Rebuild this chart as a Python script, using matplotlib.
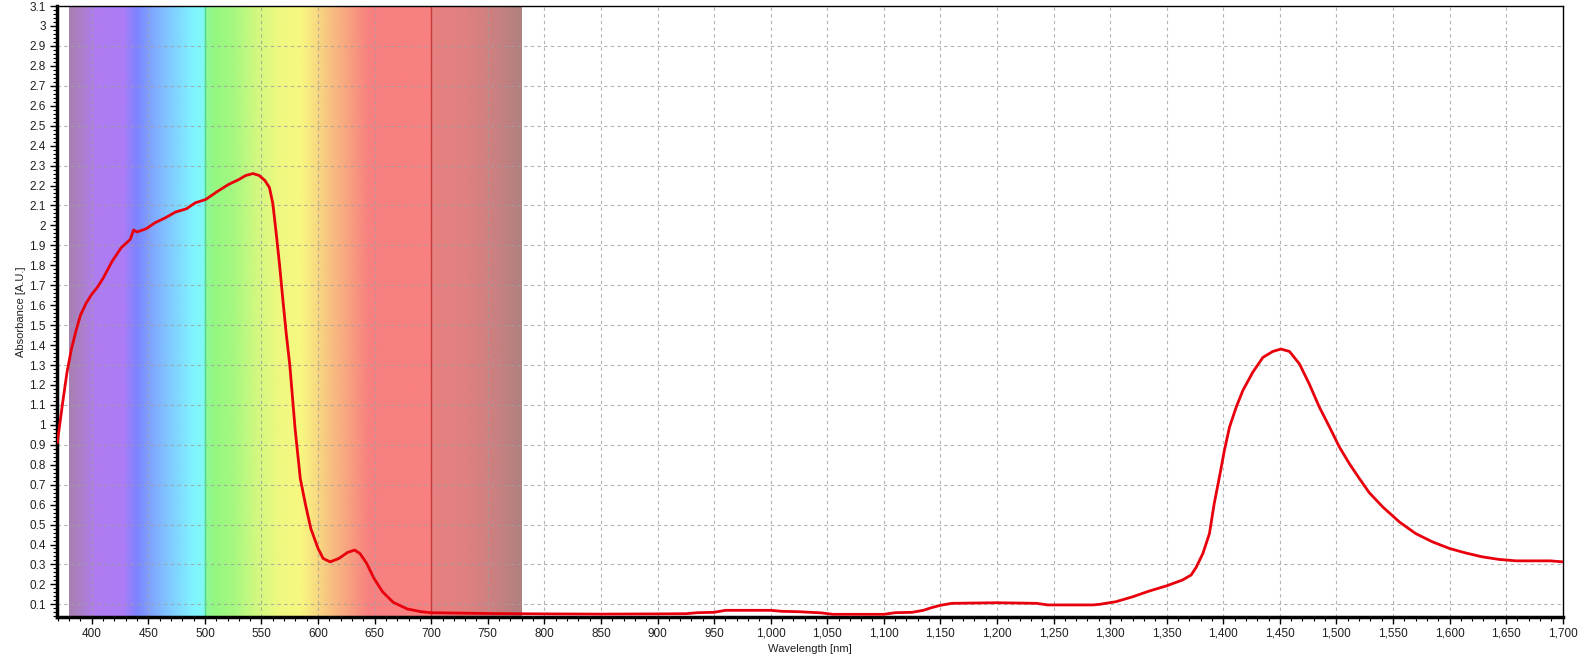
import numpy as np
import matplotlib
matplotlib.use("Agg")
import matplotlib.pyplot as plt
from matplotlib.colors import LinearSegmentedColormap, to_rgb
from matplotlib.ticker import MultipleLocator, FuncFormatter

plt.rcParams['font.family'] = ['Liberation Sans', 'DejaVu Sans']

# ---- data ----
wavelength = [369.6, 374, 378, 382, 386, 390, 395, 400, 405, 410, 418, 426, 434, 437, 440,
              448, 455.8, 465, 474, 483.6, 491.4, 500.7, 511.5, 520.8, 530, 536, 542.5,
              548, 553, 557, 560, 563, 566, 569, 572, 575, 579.7, 584.3, 589, 593.6, 600,
              604.5, 610.7, 618.4, 626, 632.3, 637, 643, 649.4, 657, 666.4, 678.8, 691, 700,
              750, 800, 850, 900, 925, 935, 950, 960, 1000, 1010, 1025, 1045, 1055, 1100,
              1110, 1125, 1135, 1142, 1150, 1160, 1200, 1235, 1245, 1285, 1290.6, 1305,
              1320, 1334.8, 1349.5, 1364, 1371.6, 1376, 1382, 1387.8, 1392, 1396.6, 1401,
              1405.5, 1411.4, 1417.3, 1426, 1435, 1443.8, 1451, 1458.5, 1467.4, 1476,
              1485, 1494, 1502.7, 1511.5, 1520.4, 1529, 1541, 1555.7, 1570, 1585, 1600,
              1614, 1629, 1644, 1659, 1674, 1689, 1700]
absorbance = [0.913, 1.10, 1.26, 1.38, 1.47, 1.55, 1.61, 1.655, 1.69, 1.735, 1.82, 1.888,
              1.93, 1.977, 1.967, 1.983, 2.013, 2.038, 2.067, 2.083, 2.113, 2.13, 2.172,
              2.205, 2.23, 2.25, 2.26, 2.25, 2.225, 2.19, 2.11, 1.96, 1.8, 1.62, 1.45,
              1.3, 0.98, 0.73, 0.597, 0.48, 0.38, 0.33, 0.313, 0.33, 0.36, 0.372, 0.355,
              0.305, 0.23, 0.163, 0.11, 0.077, 0.063, 0.058, 0.054, 0.052, 0.051, 0.052,
              0.053, 0.058, 0.06, 0.07, 0.07, 0.065, 0.063, 0.057, 0.05, 0.05, 0.058, 0.06,
              0.07, 0.083, 0.095, 0.105, 0.108, 0.105, 0.097, 0.097, 0.1, 0.113, 0.138,
              0.167, 0.192, 0.222, 0.247, 0.285, 0.355, 0.455, 0.605, 0.738, 0.872, 0.988,
              1.088, 1.172, 1.263, 1.338, 1.368, 1.38, 1.368, 1.305, 1.205, 1.088, 0.988,
              0.888, 0.805, 0.73, 0.66, 0.588, 0.513, 0.455, 0.413, 0.38, 0.358, 0.338,
              0.325, 0.318, 0.318, 0.318, 0.313]

x_ticks_major = 50
y_ticks_major = 0.1

# visible-spectrum backdrop (nm stops, colours)
spec_nm = [380, 392, 402, 428, 440, 452, 470, 490, 499.5, 500.5, 508, 525, 545, 565, 585,
           600, 615, 632, 645, 699.5, 700.5, 730, 755, 780]
spec_col = ['#a880b0', '#ac7fcc', '#b07cf0', '#ac7cf6', '#7c84ff', '#80a4ff', '#80ccff',
            '#80f4ff', '#80f8f4', '#8cf89c', '#94f880', '#a4f880', '#d0f880', '#eef880',
            '#f8f880', '#f8d880', '#f8b880', '#f89880', '#f88080', '#f88080', '#e88080',
            '#e08080', '#cc8080', '#b08080']

fig = plt.figure(figsize=(15.88, 6.63), dpi=100)
ax = fig.add_axes([56.7 / 1588, 1 - 616.7 / 663, (1562.7 - 56.7) / 1588, (616.7 - 6) / 663])

xmin, xmax = 369, 1700
ymin, ymax = 0.038, 3.1

# spectrum image
s0, s1 = spec_nm[0], spec_nm[-1]
pos = [(v - s0) / (s1 - s0) for v in spec_nm]
cmap = LinearSegmentedColormap.from_list('spec', list(zip(pos, [to_rgb(c) for c in spec_col])), N=1024)
grad = np.linspace(0, 1, 1024).reshape(1, -1)
ax.imshow(grad, cmap=cmap, aspect='auto', extent=[s0, s1, ymin, ymax], zorder=0,
          interpolation='bilinear')
ax.axvline(500, color='#50d890', lw=1.0, zorder=1.5)
ax.axvline(700, color='#c83838', lw=1.0, zorder=1.5)

# grid
for gx in range(400, 1700, 50):
    ax.axvline(gx, color='#a0a0a0', lw=0.8, ls=(0, (3, 3)), zorder=1, alpha=0.8)
for gy in np.arange(0.1, 3.0, 0.2):
    ax.axhline(gy, color='#a0a0a0', lw=0.8, ls=(0, (3, 3)), zorder=1, alpha=0.8)

ax.plot(wavelength, absorbance, color='#e8000c', lw=2.0, zorder=3, solid_joinstyle='round')

ax.set_xlim(xmin, xmax)
ax.set_ylim(ymin, ymax)

ax.xaxis.set_major_locator(MultipleLocator(x_ticks_major))
ax.xaxis.set_minor_locator(MultipleLocator(10))
ax.yaxis.set_major_locator(MultipleLocator(y_ticks_major))
ax.yaxis.set_minor_locator(MultipleLocator(0.02))
ax.xaxis.set_major_formatter(FuncFormatter(lambda v, p: f"{v:,.0f}"))
ax.yaxis.set_major_formatter(FuncFormatter(lambda v, p: f"{round(v, 1):g}"))

ax.tick_params(axis='both', which='major', labelsize=8.5, length=5, width=1, color='black',
               pad=3, labelcolor='#202020')
ax.tick_params(axis='both', which='minor', length=3, width=0.8, color='black')

for side in ['left', 'bottom']:
    ax.spines[side].set_linewidth(2.5)
for side in ['top', 'right']:
    ax.spines[side].set_linewidth(1.0)

ax.set_xlabel('Wavelength [nm]', fontsize=8, labelpad=3, color='#202020')
ax.set_ylabel('Absorbance [A.U.]', fontsize=8, labelpad=2, color='#202020')

fig.savefig('out.png', dpi=100)
